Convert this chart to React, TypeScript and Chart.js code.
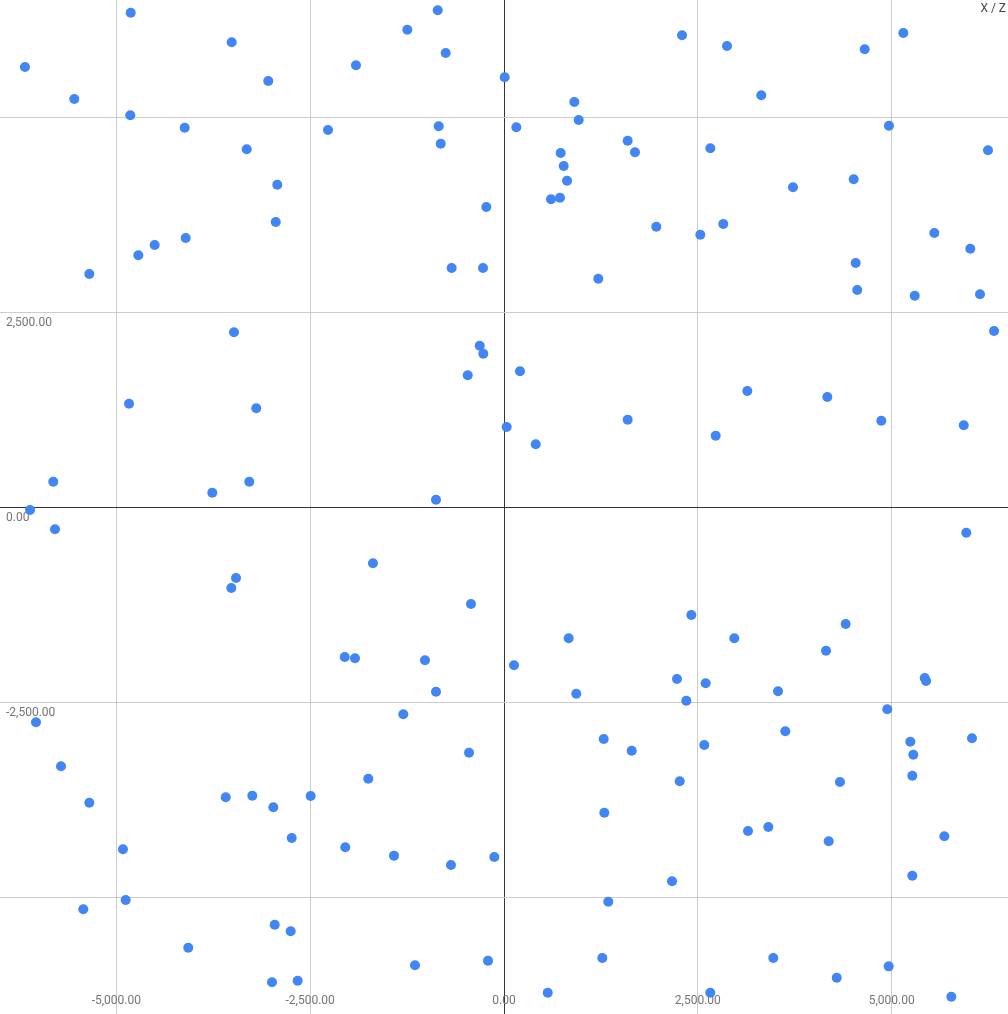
import { useEffect, useRef } from 'react';
import { Chart, registerables } from 'chart.js';
Chart.register(...registerables);

// X values of the points
const xValues = [
  -4814, -3512, -6178, -3040, -5542, -4820, -4118, -2270, -3318, -2924, -2944, -4105, -4505, -4716, -5348, -3482, -4836, -3195, -5813, -3285, -3762, -6113,
  -855, -1247, -752, -1909, 9, 907, 963, -842, 159, 1595, 1689, -816, 731, 770, 813, 722, 606, -228, 1964, -675, -271, 1216, -313, -267, -468, 206, 1595, 35, 409, -877,
  2296, 2876, 4652, 5150, 3318, 4965, 2661, 6242, 4510, 3727, 2828, 2532, 5550, 6014, 4536, 4556, 5297, 6139, 6320, 3138, 4170, 2730, 4866, 5929,
  -5791, -3456, -3517, -6036, -5713, -5348, -3589, -3246, -2975, -2493, -2738, -4914, -4879, -5426, -2957, -2751, -4072, -2992, -2661,
  -1690, -426, -2054, -1922, -1019, -877, 129, 834, 932, -1299, -451, -1750, 1286, 1647, 1294, -2047, -1419, -684, -125, 2167, 1345, -1148, -206, 1268, 564,
  5962, 2416, 2970, 4407, 4153, 2231, 2601, 2351, 3534, 5426, 5443, 4943, 3628, 2583, 5240, 6036, 5279, 2266, 4333, 5266, 3147, 3409, 4188, 5679, 5266, 3473, 4961, 4291, 2661, 5769,
];

// Z values of the points (same order)
const zValues = [
  6337, 5958, 5641, 5462, 5231, 5022, 4863, 4833, 4586, 4132, 3654, 3449, 3359, 3227, 2987, 2240, 1324, 1265, 324, 324, 183, -38,
  6368, 6119, 5821, 5663, 5509, 5192, 4962, 4881, 4868, 4696, 4547, 4658, 4538, 4372, 4183, 3965, 3945, 3846, 3594, 3064, 3064, 2927, 2068, 1965, 1688, 1740, 1119, 1026, 804, 94,
  6047, 5910, 5868, 6077, 5278, 4888, 4599, 4573, 4201, 4099, 3628, 3491, 3513, 3312, 3128, 2782, 2709, 2727, 2256, 1487, 1410, 914, 1106, 1047,
  -286, -910, -1038, -2760, -3324, -3791, -3722, -3701, -3850, -3705, -4244, -4388, -5038, -5158, -5355, -5440, -5650, -6094, -6073,
  -722, -1244, -1923, -1940, -1965, -2368, -2029, -1683, -2394, -2658, -3150, -3483, -2974, -3124, -3919, -4363, -4470, -4590, -4487, -4799, -5060, -5876, -5817, -5782, -6227,
  -329, -1385, -1683, -1500, -1842, -2205, -2260, -2483, -2363, -2192, -2231, -2594, -2876, -3051, -3009, -2965, -3176, -3517, -3526, -3445, -4154, -4103, -4286, -4222, -4727, -5782, -5889, -6035, -6227, -6278,
];

const gridValues = [-5000, -2500, 0, 2500, 5000];
const xTickLabels = [-5000, -2500, 0, 2500, 5000];
const yTickLabels = [2500, 0, -2500];
const axisTitle = 'X / Z';

const fmt = (v: number) =>
  v.toLocaleString('en-US', { minimumFractionDigits: 2, maximumFractionDigits: 2 });

const labelPlugin = {
  id: 'insideLabels',
  beforeDatasetsDraw(chart: any) {
    const { ctx, scales, chartArea } = chart;
    ctx.save();
    ctx.font = '12px Roboto';
    ctx.fillStyle = '#757575';
    ctx.textAlign = 'left';
    ctx.textBaseline = 'alphabetic';
    yTickLabels.forEach(v => {
      const py = scales.y.getPixelForValue(v);
      ctx.fillText(fmt(v), chartArea.left + 6, py + 14);
    });
    ctx.textAlign = 'center';
    xTickLabels.forEach(v => {
      const px = scales.x.getPixelForValue(v);
      ctx.fillText(fmt(v), px, chartArea.bottom - 10);
    });
    ctx.fillStyle = '#444';
    ctx.textAlign = 'right';
    ctx.fillText(axisTitle, chartArea.right - 2, chartArea.top + 12);
    ctx.restore();
  },
};

export default function App() {
  const ref = useRef<HTMLCanvasElement>(null);

  useEffect(() => {
    const points = xValues.map((x, i) => ({ x, y: zValues[i] }));
    const gridColor = (c: any) => (c.tick && c.tick.value === 0 ? '#333333' : '#cccccc');
    const setTicks = (s: any) => { s.ticks = gridValues.map(value => ({ value })); };

    const chart = new Chart(ref.current!, {
      type: 'scatter',
      data: {
        datasets: [{
          data: points,
          backgroundColor: '#4285f4',
          borderWidth: 0,
          pointRadius: 5,
          pointHoverRadius: 5,
        }],
      },
      options: {
        animation: false,
        responsive: true,
        maintainAspectRatio: false,
        layout: { autoPadding: false, padding: 0 },
        plugins: { legend: { display: false }, tooltip: { enabled: false } },
        scales: {
          x: {
            type: 'linear', min: -6500, max: 6500,
            afterBuildTicks: setTicks,
            ticks: { display: false },
            grid: { color: gridColor, drawTicks: false, lineWidth: 1 },
            border: { display: false },
          },
          y: {
            type: 'linear', min: -6500, max: 6500,
            afterBuildTicks: setTicks,
            ticks: { display: false },
            grid: { color: gridColor, drawTicks: false, lineWidth: 1 },
            border: { display: false },
          },
        },
      },
      plugins: [labelPlugin],
    });

    return () => { chart.destroy(); };
  }, []);

  return (
    <div style={{ position: 'absolute', left: 0, top: 0, width: 1008, height: 1014, background: '#fff' }}>
      <canvas ref={ref} />
    </div>
  );
}
